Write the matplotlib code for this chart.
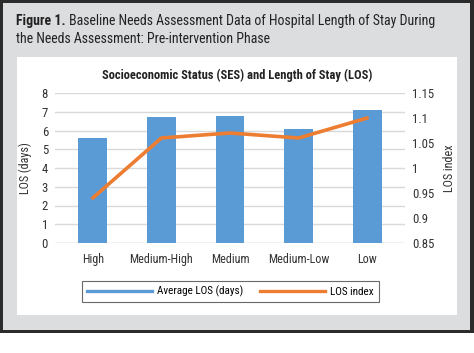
import matplotlib
matplotlib.use("Agg")
import matplotlib.pyplot as plt
from matplotlib.patches import Rectangle
from matplotlib.lines import Line2D
from matplotlib import font_manager as fm

categories = ["High", "Medium-High", "Medium", "Medium-Low", "Low"]
avg_los = [5.6, 6.7, 6.8, 6.1, 7.1]
los_index = [0.94, 1.06, 1.07, 1.06, 1.10]
left_ticks = [0, 1, 2, 3, 4, 5, 6, 7, 8]
right_ticks = [0.85, 0.9, 0.95, 1, 1.05, 1.1, 1.15]
right_labels = ["0.85", "0.9", "0.95", "1", "1.05", "1.1", "1.15"]

names = {f.name for f in fm.fontManager.ttflist}
cap_font = "DejaVu Sans"
for cand in ["Liberation Sans Narrow", "Roboto Condensed", "Open Sans Condensed", "Roboto", "Lato"]:
    if cand in names:
        cap_font = cand
        break
font = [cap_font, "DejaVu Sans"]

W, H = 474, 353
fig = plt.figure(figsize=(W / 100, H / 100), dpi=100)
fig.patch.set_facecolor("white")
fig.canvas.draw()
renderer = fig.canvas.get_renderer()

def fx(x): return x / W
def fy(y): return 1 - y / H

def fit_size(text, target_px, family, weight="normal", base=10.0):
    t = fig.text(0, 0, text, fontsize=base, family=family, fontweight=weight)
    w = t.get_window_extent(renderer).width
    t.remove()
    return base * target_px / w

# outer dark frame, gray panel, inner white panel
fig.patches.append(Rectangle((0, fy(333)), 1, 1 - fy(333), transform=fig.transFigure,
                             facecolor="#2b2b2b", edgecolor="none", zorder=-3))
fig.patches.append(Rectangle((fx(3), fy(330)), fx(467), fy(3) - fy(330), transform=fig.transFigure,
                             facecolor="#dcdddf", edgecolor="none", zorder=-2))
fig.patches.append(Rectangle((fx(17), fy(315)), fx(440), fy(57) - fy(315), transform=fig.transFigure,
                             facecolor="white", edgecolor="none", zorder=-1))

# caption
line1_bold = "Figure 1."
line1_rest = "Baseline Needs Assessment Data of Hospital Length of Stay During"
line2 = "the Needs Assessment: Pre-intervention Phase"
fs = 10.0
for _ in range(3):
    tb = fig.text(0, 0, line1_bold, fontsize=fs, fontweight="bold", family=cap_font)
    tr = fig.text(0, 0, line1_rest, fontsize=fs, family=cap_font)
    w = tb.get_window_extent(renderer).width + tr.get_window_extent(renderer).width + fs * 0.35
    tb.remove(); tr.remove()
    fs = fs * 421.0 / w

t1 = fig.text(fx(16), fy(21), line1_bold, fontsize=fs, fontweight="bold", family=cap_font,
              color="#222222", va="center", ha="left")
bb = t1.get_window_extent(renderer)
fig.text((bb.x1 + fs * 0.35) / W, fy(21), line1_rest,
         fontsize=fs, family=cap_font, color="#222222", va="center", ha="left")
fig.text(fx(16), fy(39), line2,
         fontsize=fs, family=cap_font, color="#222222", va="center", ha="left")

xfs = fit_size("Medium-High", 64, font)
yfs = fit_size("0.85", 22, font)
lfs = fit_size("LOS (days)", 52, font)
legfs = fit_size("Average LOS (days)", 86, font)
tfs = fit_size("Socioeconomic Status (SES) and Length of Stay (LOS)", 269, font, "bold")

ax = fig.add_axes([fx(55), fy(243), fx(405) - fx(55), fy(93) - fy(243)])
ax.patch.set_alpha(0)
x = list(range(len(categories)))
ax.bar(x, avg_los, width=0.42, color="#5b9bd5", zorder=2)
ax.set_ylim(0, 8)
ax.set_xlim(-0.55, len(categories) - 0.45)
ax.set_yticks(left_ticks)
ax.yaxis.grid(True, color="#d9d9d9", linewidth=1)
ax.set_axisbelow(True)
for s in ax.spines.values():
    s.set_visible(False)
ax.axhline(0, color="#d9d9d9", linewidth=1, zorder=1)
ax.tick_params(axis="x", length=0, labelsize=xfs, colors="#333333", pad=7)
ax.tick_params(axis="y", length=0, labelsize=yfs, colors="#333333", pad=5)
ax.set_xticks(x)
ax.set_xticklabels(categories, family=font)
for lab in ax.get_yticklabels():
    lab.set_family(font)
ax.set_ylabel("LOS (days)", fontsize=lfs, family=font, color="#333333")
ax.yaxis.set_label_coords(fx(32 - 55) / (fx(405) - fx(55)), 0.5)

ax2 = ax.twinx()
ax2.patch.set_alpha(0)
ax2.plot(x, los_index, color="#ed7d31", linewidth=2.6, zorder=3, solid_capstyle="round")
ax2.set_ylim(0.85, 1.15)
ax2.set_yticks(right_ticks)
ax2.set_yticklabels(right_labels, family=font)
for s in ax2.spines.values():
    s.set_visible(False)
ax2.tick_params(axis="y", length=0, labelsize=yfs, colors="#333333", pad=5)
ax2.set_ylabel("LOS index", fontsize=lfs, family=font, color="#333333")
ax2.yaxis.set_label_coords((443 - 55) / (405 - 55), 0.5)

fig.text(fx(237), fy(75), "Socioeconomic Status (SES) and Length of Stay (LOS)", fontsize=tfs,
         fontweight="bold", family=font, color="#222222", ha="center", va="center")

handles = [Line2D([], [], color="#5b9bd5", linewidth=2.4),
           Line2D([], [], color="#ed7d31", linewidth=2.4)]
leg_px = legfs * 100 / 72
leg = fig.legend(handles, ["Average LOS (days)", "LOS index"], loc="center",
                 bbox_to_anchor=(fx(230.5), fy(291.5)), ncol=2, frameon=True, fancybox=False,
                 prop={"family": font, "size": legfs}, handlelength=65 / leg_px,
                 columnspacing=17 / leg_px, borderpad=0.45, handletextpad=5 / leg_px,
                 borderaxespad=0)
leg.get_frame().set_edgecolor("#444444")
leg.get_frame().set_linewidth(0.8)

fig.savefig("out.png", dpi=100)
